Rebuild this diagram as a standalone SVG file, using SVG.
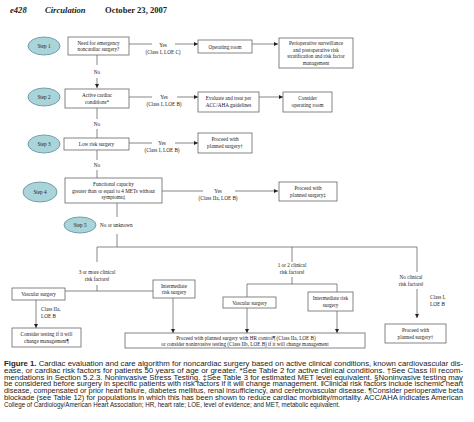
<svg xmlns="http://www.w3.org/2000/svg" width="474" height="422" viewBox="0 0 474 422">
<style>
.bx{fill:#fff;stroke:#666;stroke-width:0.8}
.el{fill:#a9d4d9;stroke:#5d8c98;stroke-width:0.8}
.t{font-family:"Liberation Serif","Times New Roman",serif;font-size:5.2px;fill:#222;text-anchor:middle}
.tl{font-family:"Liberation Serif","Times New Roman",serif;font-size:5.2px;fill:#222}
.ln{fill:none;stroke:#555;stroke-width:0.7}
.hd{font-family:"Liberation Serif","Times New Roman",serif;font-size:8.6px;font-weight:bold;fill:#222}
.cap{font-family:"Liberation Sans",Arial,sans-serif;font-size:6.6px;fill:#222}
</style>
<defs>
<marker id="ah" viewBox="0 0 6 6" refX="6" refY="3" markerWidth="4" markerHeight="4" orient="auto" markerUnits="userSpaceOnUse"><path d="M0,0 L6,3 L0,6 z" fill="#222"/></marker>
</defs>
<rect width="474" height="422" fill="#fff"/>
<g id="header">
<text class="hd" x="10" y="13" font-style="italic">e428</text>
<text class="hd" x="45" y="13" font-style="italic">Circulation</text>
<text class="hd" x="105" y="13">October 23, 2007</text>
</g>
<g id="connectors">
<path class="ln" d="M129,44 H152 M175,44 H198" marker-end="url(#ah)"/>
<path class="ln" d="M252,44 H278" marker-end="url(#ah)"/>
<path class="ln" d="M97,55 V65 M97,78 V88" marker-end="url(#ah)"/>
<path class="ln" d="M129,97 H152 M177,97 H198" marker-end="url(#ah)"/>
<path class="ln" d="M259,97 H283" marker-end="url(#ah)"/>
<path class="ln" d="M97,108 V119 M97,129 V138"/>
<path class="ln" d="M129,143 H152 M175,143 H198" marker-end="url(#ah)"/>
<path class="ln" d="M97,150 V160 M97,170 V178"/>
<path class="ln" d="M162,191 H203 M235,191 H278" marker-end="url(#ah)"/>
<path class="ln" d="M117,203 V217 M117,234 V247 M97,247 H417"/>
<path class="ln" d="M97,247 V262 M97,285 V291 M65,291 H153"/>
<path class="ln" d="M36,300 V328" marker-end="url(#ah)"/>
<path class="ln" d="M173,298 V333" marker-end="url(#ah)"/>
<path class="ln" d="M292,247 V262 M292,277 V284 M247,284 H337 M247,284 V297 M337,284 V292"/>
<path class="ln" d="M247,308 V333" marker-end="url(#ah)"/>
<path class="ln" d="M337,311 V333" marker-end="url(#ah)"/>
<path class="ln" d="M417,247 V272 M417,289 V318" marker-end="url(#ah)"/>
<text class="t" x="97" y="73.5">No</text>
<text class="t" x="163" y="46.5">Yes</text>
<text class="t" x="163" y="54">(Class I, LOE C)</text>
<text class="t" x="164" y="99">Yes</text>
<text class="t" x="164" y="106">(Class I, LOE B)</text>
<text class="t" x="97" y="126">No</text>
<text class="t" x="162" y="145">Yes</text>
<text class="t" x="162" y="152">(Class I, LOE B)</text>
<text class="t" x="97" y="166.5">No</text>
<text class="t" x="218" y="193">Yes</text>
<text class="t" x="218" y="200">(Class IIa, LOE B)</text>
<text class="tl" x="100" y="227">No or unknown</text>
<text class="t" x="97" y="274">3 or more clinical</text>
<text class="t" x="97" y="281">risk factors‖</text>
<text class="tl" x="41" y="311">Class IIa,</text>
<text class="tl" x="41" y="318">LOE B</text>
<text class="t" x="292" y="267">1 or 2 clinical</text>
<text class="t" x="292" y="274">risk factors‖</text>
<text class="t" x="411" y="279">No clinical</text>
<text class="t" x="411" y="286">risk factors‖</text>
<text class="tl" x="430" y="299">Class I,</text>
<text class="tl" x="430" y="306">LOE B</text>
</g>
<g id="step1">
<ellipse class="el" cx="44" cy="46" rx="16" ry="9"/>
<text class="t" x="44" y="48">Step 1</text>
</g>
<g id="n-emergency">
<rect class="bx" x="68" y="37" width="61" height="18"/>
<text class="t" x="98.5" y="44.5">Need for emergency</text>
<text class="t" x="98.5" y="51">noncardiac surgery?</text>
</g>
<g id="n-or">
<rect class="bx" x="198" y="40" width="54" height="13"/>
<text class="t" x="225" y="48.5">Operating room</text>
</g>
<g id="n-periop">
<rect class="bx" x="279" y="38" width="74" height="30"/>
<text class="t" x="316" y="45">Perioperative surveillance</text>
<text class="t" x="316" y="51.5">and postoperative risk</text>
<text class="t" x="316" y="58">stratification and risk factor</text>
<text class="t" x="316" y="64.5">management</text>
</g>
<g id="step2">
<ellipse class="el" cx="44" cy="97" rx="16" ry="9"/>
<text class="t" x="44" y="99">Step 2</text>
</g>
<g id="n-active">
<rect class="bx" x="65" y="89" width="64" height="19"/>
<text class="t" x="97" y="96.5">Active cardiac</text>
<text class="t" x="97" y="103.5">conditions*</text>
</g>
<g id="n-evaluate">
<rect class="bx" x="198" y="92" width="61" height="20"/>
<text class="t" x="228.5" y="100">Evaluate and treat per</text>
<text class="t" x="228.5" y="107">ACC/AHA guidelines</text>
</g>
<g id="n-consider-or">
<rect class="bx" x="283" y="92" width="49" height="20"/>
<text class="t" x="307.5" y="100">Consider</text>
<text class="t" x="307.5" y="107">operating room</text>
</g>
<g id="step3">
<ellipse class="el" cx="44" cy="144" rx="16" ry="9"/>
<text class="t" x="44" y="146">Step 3</text>
</g>
<g id="n-lowrisk">
<rect class="bx" x="64" y="138" width="65" height="12"/>
<text class="t" x="96.5" y="146">Low risk surgery</text>
</g>
<g id="n-proceed1">
<rect class="bx" x="198" y="133" width="54" height="20"/>
<text class="t" x="225" y="141">Proceed with</text>
<text class="t" x="225" y="148">planned surgery†</text>
</g>
<g id="step4">
<ellipse class="el" cx="40" cy="192" rx="17" ry="10"/>
<text class="t" x="40" y="194">Step 4</text>
</g>
<g id="n-functional">
<rect class="bx" x="65" y="178" width="97" height="25"/>
<text class="t" x="113.5" y="186">Functional capacity</text>
<text class="t" x="113.5" y="192.5">greater than or equal to 4 METs without</text>
<text class="t" x="113.5" y="199">symptoms‡</text>
</g>
<g id="n-proceed2">
<rect class="bx" x="279" y="182" width="58" height="19"/>
<text class="t" x="308" y="190">Proceed with</text>
<text class="t" x="308" y="197">planned surgery‡</text>
</g>
<g id="step5">
<ellipse class="el" cx="80" cy="225" rx="16" ry="8"/>
<text class="t" x="80" y="227">Step 5</text>
</g>
<g id="n-vasc1">
<rect class="bx" x="12" y="288" width="53" height="12"/>
<text class="t" x="38.5" y="296">Vascular surgery</text>
</g>
<g id="n-inter1">
<rect class="bx" x="153" y="280" width="42" height="18"/>
<text class="t" x="174" y="287.5">Intermediate</text>
<text class="t" x="174" y="294">risk surgery</text>
</g>
<g id="n-consider-test">
<rect class="bx" x="12" y="328" width="69" height="19"/>
<text class="t" x="46.5" y="336">Consider testing if it will</text>
<text class="t" x="46.5" y="343">change management¶</text>
</g>
<g id="n-proceed-hr">
<rect class="bx" x="125" y="333" width="240" height="15"/>
<text class="t" x="246" y="339.5">Proceed with planned surgery with HR control¶ (Class IIa, LOE B)</text>
<text class="t" x="245" y="346">or consider  noninvasive testing (Class IIb, LOE B) if it will change management</text>
</g>
<g id="n-vasc2">
<rect class="bx" x="223" y="297" width="53" height="11"/>
<text class="t" x="249.5" y="304.5">Vascular surgery</text>
</g>
<g id="n-inter2">
<rect class="bx" x="308" y="292" width="45" height="19"/>
<text class="t" x="330.5" y="300">Intermediate risk</text>
<text class="t" x="330.5" y="307">surgery</text>
</g>
<g id="n-proceed3">
<rect class="bx" x="385" y="324" width="61" height="19"/>
<text class="t" x="415.5" y="332">Proceed with</text>
<text class="t" x="415.5" y="339">planned surgery†</text>
</g>
<g id="caption">
<text class="cap" x="4" y="366" textLength="459" lengthAdjust="spacingAndGlyphs"><tspan font-weight="bold">Figure 1.</tspan> Cardiac evaluation and care algorithm for noncardiac surgery based on active clinical conditions, known cardiovascular dis-</text>
<text class="cap" x="4" y="372.75" textLength="459" lengthAdjust="spacingAndGlyphs">ease, or cardiac risk factors for patients 50 years of age or greater. *See Table 2 for active clinical conditions. †See Class III recom-</text>
<text class="cap" x="4" y="379.5" textLength="459" lengthAdjust="spacingAndGlyphs">mendations in Section 5.2.3. Noninvasive Stress Testing. ‡See Table 3 for estimated MET level equivalent. §Noninvasive testing may</text>
<text class="cap" x="4" y="386.25" textLength="459" lengthAdjust="spacingAndGlyphs">be considered before surgery in specific patients with risk factors if it will change management. ‖Clinical risk factors include ischemic heart</text>
<text class="cap" x="4" y="393" textLength="459" lengthAdjust="spacingAndGlyphs">disease, compensated or prior heart failure, diabetes mellitus, renal insufficiency, and cerebrovascular disease. ¶Consider perioperative beta</text>
<text class="cap" x="4" y="399.75" textLength="459" lengthAdjust="spacingAndGlyphs">blockade (see Table 12) for populations in which this has been shown to reduce cardiac morbidity/mortality. ACC/AHA indicates American</text>
<text class="cap" x="4" y="406.5" textLength="336" lengthAdjust="spacingAndGlyphs">College of Cardiology/American Heart Association; HR, heart rate; LOE, level of evidence; and MET, metabolic equivalent.</text>
</g>
</svg>
